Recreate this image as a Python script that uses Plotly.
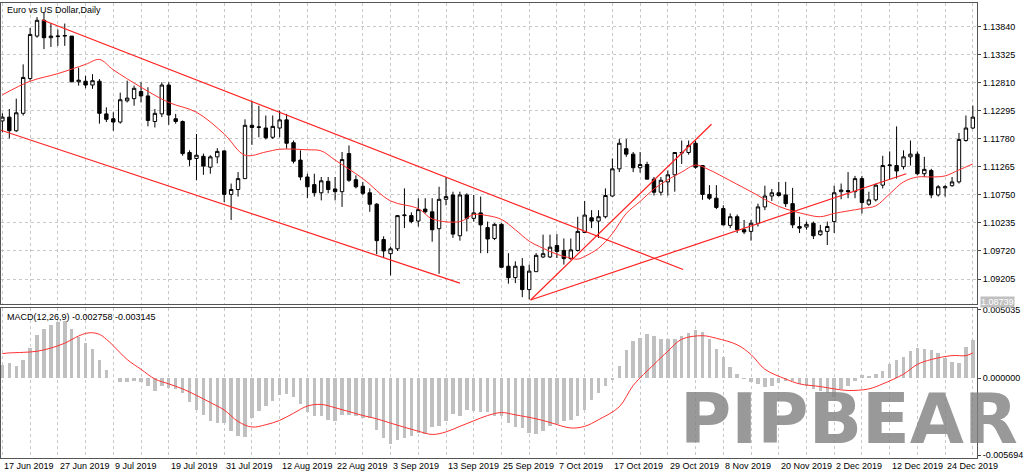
import plotly.graph_objects as go

opens = [1.1211,1.1218,1.1193,1.1225,1.1289,1.1367,1.1396,1.1364,1.1366,1.1367,1.1367,1.1283,1.1284,1.1277,1.1284,1.1224,1.1215,1.1209,1.1248,1.1252,
1.1265,1.1257,1.1210,1.1224,1.1277,1.1215,1.1210,1.1153,1.1142,1.1146,1.1126,1.1145,1.1156,1.1076,1.1085,1.1105,1.1203,1.1199,1.1198,1.1181,
1.1198,1.1213,1.1171,1.1139,1.1108,1.1094,1.1079,1.1100,1.1086,1.1081,1.1151,1.1103,1.1091,1.1079,1.1058,1.0993,1.0967,1.0976,1.1037,1.1037,
1.1027,1.1049,1.1044,1.1013,1.1067,1.1075,1.1000,1.1075,1.1032,1.1042,1.1015,1.0995,1.1021,1.0944,1.0923,1.0944,1.0901,1.0934,1.0961,1.0961,
1.0982,1.0973,1.0958,1.0973,1.1006,1.1033,1.1027,1.1035,1.1073,1.1123,1.1160,1.1150,1.1125,1.1131,1.1104,1.1080,1.1099,1.1112,1.1152,1.1153,
1.1170,1.1129,1.1076,1.1069,1.1050,1.1019,1.1035,1.1011,1.1008,1.1023,1.1053,1.1073,1.1079,1.1075,1.1059,1.1017,1.1016,1.1023,1.1002,1.1008,
1.1026,1.1081,1.1083,1.1081,1.1105,1.1058,1.1066,1.1093,1.1129,1.1129,1.1127,1.1145,1.1150,1.1114,1.1120,1.1075,1.1088,1.1092,1.1099,1.1175,1.1198]
highs = [1.1225,1.1233,1.1252,1.1315,1.1382,1.1402,1.1410,1.1391,1.1379,1.1390,1.1367,1.1309,1.1294,1.1297,1.1288,1.1236,1.1227,1.1263,1.1285,1.1276,
1.1282,1.1273,1.1233,1.1282,1.1282,1.1224,1.1212,1.1157,1.1187,1.1151,1.1148,1.1161,1.1157,1.1096,1.1117,1.1214,1.1248,1.1239,1.1221,1.1221,
1.1230,1.1224,1.1175,1.1157,1.1114,1.1114,1.1108,1.1108,1.1108,1.1154,1.1166,1.1111,1.1099,1.1087,1.1060,1.0999,1.0980,1.1038,1.1087,1.1043,
1.1069,1.1069,1.1069,1.1090,1.1108,1.1081,1.1081,1.1078,1.1075,1.1072,1.1026,1.1023,1.1023,1.0968,1.0953,1.0959,1.0947,1.0968,1.1002,1.1002,
1.1003,1.0995,1.0995,1.1035,1.1064,1.1047,1.1047,1.1087,1.1142,1.1178,1.1178,1.1154,1.1154,1.1136,1.1108,1.1108,1.1120,1.1154,1.1175,1.1175,
1.1175,1.1129,1.1093,1.1093,1.1056,1.1041,1.1039,1.1029,1.1029,1.1059,1.1092,1.1086,1.1099,1.1099,1.1088,1.1035,1.1026,1.1026,1.1020,1.1026,
1.1092,1.1096,1.1117,1.1110,1.1110,1.1081,1.1096,1.1147,1.1155,1.1201,1.1157,1.1175,1.1155,1.1145,1.1123,1.1093,1.1093,1.1108,1.1189,1.1221,1.1239]
lows = [1.1190,1.1179,1.1191,1.1221,1.1285,1.1364,1.1343,1.1347,1.1349,1.1349,1.1282,1.1276,1.1271,1.1270,1.1206,1.1209,1.1193,1.1206,1.1245,1.1239,
1.1245,1.1201,1.1199,1.1218,1.1204,1.1206,1.1147,1.1128,1.1102,1.1112,1.1114,1.1133,1.1062,1.1029,1.1072,1.1105,1.1167,1.1181,1.1177,1.1178,
1.1181,1.1160,1.1133,1.1102,1.1069,1.1072,1.1065,1.1078,1.1065,1.1053,1.1099,1.1087,1.1075,1.1044,1.0966,1.0959,1.0927,1.0972,1.1014,1.1023,
1.1017,1.1041,1.0989,1.0930,1.1056,1.0996,1.0991,1.1008,1.1026,1.0968,1.0968,1.0992,1.0942,1.0912,1.0913,1.0887,1.0883,1.0934,1.0959,1.0959,
1.0959,1.0947,1.0956,1.0971,1.1005,1.1014,1.0996,1.1032,1.1072,1.1117,1.1145,1.1117,1.1116,1.1104,1.1074,1.1074,1.1074,1.1081,1.1132,1.1149,
1.1123,1.1066,1.1066,1.1049,1.1019,1.1014,1.1005,1.1003,1.0991,1.1017,1.1047,1.1064,1.1072,1.1053,1.1014,1.1005,1.1011,1.0994,1.1000,1.0983,
1.1005,1.1067,1.1069,1.1069,1.1041,1.1055,1.1063,1.1087,1.1104,1.1105,1.1122,1.1129,1.1111,1.1108,1.1069,1.1072,1.1072,1.1090,1.1096,1.1173,1.1196]
closes = [1.1218,1.1193,1.1226,1.1291,1.1370,1.1396,1.1364,1.1367,1.1367,1.1368,1.1283,1.1286,1.1277,1.1285,1.1225,1.1214,1.1209,1.1250,1.1253,1.1271,
1.1257,1.1212,1.1225,1.1277,1.1222,1.1210,1.1151,1.1140,1.1148,1.1128,1.1145,1.1155,1.1076,1.1085,1.1105,1.1203,1.1199,1.1200,1.1180,1.1201,
1.1213,1.1170,1.1137,1.1108,1.1090,1.1079,1.1101,1.1085,1.1081,1.1140,1.1102,1.1090,1.1078,1.1058,1.0991,1.0972,1.0976,1.1037,1.1038,1.1026,
1.1048,1.1044,1.1011,1.1067,1.1072,1.1003,1.1075,1.1032,1.1042,1.1020,1.0994,1.1021,1.0942,1.0923,1.0944,1.0901,1.0935,1.0964,1.0967,1.0979,
1.0971,1.0958,1.0974,1.1008,1.1038,1.1027,1.1035,1.1074,1.1123,1.1170,1.1150,1.1125,1.1131,1.1104,1.1080,1.1102,1.1112,1.1153,1.1153,1.1166,
1.1126,1.1076,1.1069,1.1052,1.1020,1.1035,1.1011,1.1007,1.1023,1.1053,1.1073,1.1079,1.1074,1.1059,1.1020,1.1014,1.1021,1.1000,1.1009,1.1017,
1.1079,1.1084,1.1081,1.1105,1.1061,1.1066,1.1093,1.1129,1.1130,1.1119,1.1145,1.1150,1.1114,1.1122,1.1075,1.1090,1.1090,1.1099,1.1177,1.1198,1.1218]

ma_idx = [0,4,8,12,14,16,20,24,28,32,35,38,40,44,46,48,52,56,60,62,66,68,70,72,74,76,78,80,82,83,84,86,88,90,92,94,96,98,100,102,104,108,112,116,118,120,124,126,128,130,132,134,136,138,140]
ma_val = [1.1259,1.1284,1.1298,1.1315,1.1324,1.1305,1.1273,1.1245,1.1227,1.1187,1.1148,1.1154,1.1159,1.1158,1.1156,1.1139,1.1105,1.1064,1.1050,1.1031,1.1026,1.1039,1.1037,1.1030,1.1011,1.0990,1.0977,1.0966,1.0959,1.0957,1.0962,1.0977,1.1004,1.1041,1.1063,1.1086,1.1103,1.1117,1.1130,1.1121,1.1108,1.1081,1.1054,1.1039,1.1035,1.1041,1.1050,1.1055,1.1077,1.1099,1.1108,1.1108,1.1110,1.1121,1.1132]

trend_x = [[5.7,98.2],[-0.2,66.0],[76.2,102.3],[76.2,130.4]]
trend_y = [[1.1397,1.0938],[1.1194,1.0913],[1.0882,1.1205],[1.0882,1.1114]]

hist = [10.0,11.3,8.9,13.0,22.2,31.8,36.2,39.0,41.5,42.2,36.2,30.6,25.8,21.7,13.7,6.0,0.0,-2.7,-2.7,-1.9,
-2.7,-6.0,-9.2,-6.0,-7.5,-8.0,-10.9,-17.6,-23.6,-27.2,-32.0,-33.3,-33.3,-39.3,-43.1,-43.9,-29.6,-24.3,-20.9,-17.1,
-12.8,-11.6,-14.0,-18.8,-24.8,-27.7,-28.4,-30.8,-32.0,-27.2,-27.2,-28.4,-29.6,-29.6,-38.1,-44.1,-48.4,-46.0,-44.6,-42.9,
-40.5,-41.7,-36.4,-35.7,-31.6,-26.8,-28.4,-23.6,-24.3,-24.8,-24.8,-27.9,-28.4,-33.3,-36.4,-36.9,-40.5,-41.7,-39.3,-35.7,
-34.0,-32.1,-30.8,-27.7,-23.6,-16.4,-10.8,-6.0,-0.7,8.9,21.0,27.5,29.9,32.3,31.1,28.9,28.9,28.9,31.1,33.0,
35.4,34.2,28.7,21.4,15.7,8.4,2.9,-0.2,-2.7,-4.3,-6.7,-5.5,-3.6,-1.9,-1.9,-4.3,-5.5,-8.0,-9.9,-10.8,
-14.0,-8.0,-5.5,-1.9,2.2,1.7,2.9,5.3,10.1,13.7,15.4,19.8,22.2,21.4,21.0,18.6,14.9,12.1,11.3,22.9,28.2]
sig_idx = [0,1,3,5,7,9,11,12,13,14,15,16,18,20,22,24,26,28,30,32,34,36,38,40,42,44,46,48,50,52,54,56,58,60,62,64,66,68,70,72,74,
77,79,82,84,86,89,91,94,96,98,101,103,106,108,110,113,115,118,120,122,125,127,130,132,134,137,139,140]
sig_val = [18.1,18.6,19.0,19.8,22.2,25.8,31.1,33.0,33.5,32.3,28.7,23.9,13.7,6.5,-0.7,-4.3,-8.0,-12.8,-18.1,-23.6,-32.1,-36.2,-34.5,-31.3,-26.0,-20.7,-19.5,-21.9,-24.8,-27.7,-30.1,-33.3,-36.4,-39.3,-41.7,-39.8,-35.7,-31.6,-27.7,-25.5,-27.2,
-30.1,-32.8,-36.9,-35.7,-30.8,-21.2,-5.5,10.1,19.8,28.7,31.3,29.4,24.6,17.4,6.5,-0.7,-4.3,-6.3,-8.0,-9.2,-8.0,-4.3,2.9,10.1,13.7,16.6,16.6,18.6]

date_labels = ["17 Jun 2019","27 Jun 2019","9 Jul 2019","19 Jul 2019","31 Jul 2019","12 Aug 2019","22 Aug 2019","3 Sep 2019","13 Sep 2019",
"25 Sep 2019","7 Oct 2019","17 Oct 2019","29 Oct 2019","8 Nov 2019","20 Nov 2019","2 Dec 2019","12 Dec 2019","24 Dec 2019"]
price_ticks = [1.13840,1.13325,1.12810,1.12295,1.11780,1.11265,1.10750,1.10235,1.09720,1.09205]
macd_ticks = [0.005035,0.0,-0.005694]

FONT = "Liberation Sans"
idx = list(range(len(opens)))
fig = go.Figure()
fig.add_trace(go.Candlestick(x=idx, open=opens, high=highs, low=lows, close=closes,
    increasing=dict(fillcolor="white", line=dict(color="black", width=1)),
    decreasing=dict(fillcolor="black", line=dict(color="black", width=1)),
    whiskerwidth=0, showlegend=False, hoverinfo="skip", xaxis="x", yaxis="y"))
fig.add_trace(go.Scatter(x=ma_idx, y=ma_val, mode="lines", line=dict(color="#ff3030", width=1, shape="spline"),
    showlegend=False, xaxis="x", yaxis="y"))
for tx, ty in zip(trend_x, trend_y):
    fig.add_trace(go.Scatter(x=tx, y=ty, mode="lines", line=dict(color="#ff2020", width=1.2), showlegend=False, xaxis="x", yaxis="y"))
fig.add_trace(go.Bar(x=idx, y=[h*1e-4 for h in hist], marker=dict(color="#c0c0c0", line=dict(width=0)), width=0.5,
    showlegend=False, xaxis="x2", yaxis="y2"))
fig.add_trace(go.Scatter(x=sig_idx, y=[s*1e-4 for s in sig_val], mode="lines", line=dict(color="#ff3030", width=1, shape="spline"),
    showlegend=False, xaxis="x2", yaxis="y2"))

grid = dict(showgrid=True, gridcolor="#c8c8c8", griddash="dot", gridwidth=1)
xr = [-0.2, 140.6]
xt = list(range(0, 141, 4))
fig.update_layout(
    width=1024, height=473, margin=dict(l=0, r=47, t=0, b=15),
    plot_bgcolor="white", paper_bgcolor="white", bargap=0,
    font=dict(family=FONT, size=9, color="black"),
    xaxis=dict(domain=[0,1], range=xr, tickvals=xt, showticklabels=False, rangeslider=dict(visible=False),
               showline=True, linecolor="#555", mirror=True, anchor="y", **grid, zeroline=False),
    xaxis2=dict(domain=[0,1], range=xr, tickvals=xt, showticklabels=False, matches="x",
               showline=True, linecolor="#555", mirror=True, anchor="y2", **grid, zeroline=False),
    yaxis=dict(domain=[0.3384,1], range=[1.08745,1.14278], side="right", tickvals=price_ticks,
               ticktext=[f"{t:.5f}" for t in price_ticks], ticks="outside", ticklen=3, showline=True,
               linecolor="#555", mirror=True, **grid, zeroline=False, anchor="x", tickfont=dict(size=9)),
    yaxis2=dict(domain=[0,0.3297], range=[-0.00591,0.00518], side="right", tickvals=macd_ticks,
               ticktext=[f"{t:.6f}" for t in macd_ticks], ticks="outside", ticklen=3, showline=True,
               linecolor="#555", mirror=True, showgrid=False, zeroline=False, anchor="x2", tickfont=dict(size=9)),
)
ann = [dict(text="Euro vs US Dollar,Daily", x=0.004, y=1, xref="paper", yref="paper", xanchor="left", yanchor="top", showarrow=False, font=dict(size=9)),
       dict(text="MACD(12,26,9) -0.002758 -0.003145", x=0.004, y=0.326, xref="paper", yref="paper", xanchor="left", yanchor="top", showarrow=False, font=dict(size=9)),
       dict(text="<b>PIPBEAR</b>", x=1.044, y=-0.003, xref="paper", yref="y2", xanchor="right", yanchor="middle", showarrow=False,
            font=dict(size=70, color="rgba(128,128,128,0.8)", family="DejaVu Sans")),
       dict(text="1.08739", x=1.003, y=0.343, xref="paper", yref="paper", xanchor="left", yanchor="middle", showarrow=False,
            bgcolor="#c0c0c0", borderpad=0, font=dict(size=9, color="white"))]
for i, lab in enumerate(date_labels):
    ann.append(dict(text=lab, x=i*8, y=0, xref="x", yref="paper", xanchor="left", yanchor="top", yshift=-1, showarrow=False, font=dict(size=9)))
fig.update_layout(annotations=ann)
fig.write_html("out.html", config={"displayModeBar": False},
               post_script="document.body.style.margin='0';document.body.style.overflow='hidden';")
